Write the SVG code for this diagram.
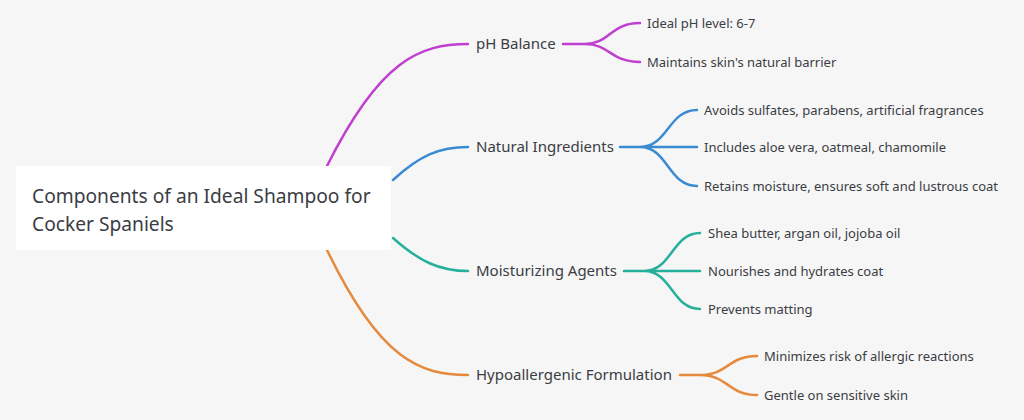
<svg xmlns="http://www.w3.org/2000/svg" width="1024" height="420" viewBox="0 0 1024 420">
<style>
.b{fill:none;stroke-width:2.5;stroke-linecap:round}
.t{font-family:"Noto Sans",sans-serif;font-size:15px;fill:#3a3d44}
.c{font-family:"Noto Sans",sans-serif;font-size:13px;fill:#3a3d44}
.r{font-family:"Noto Sans",sans-serif;font-size:19.2px;fill:#3a3d44}
</style>
<rect width="1024" height="420" fill="#f6f6f6"/>
<g id="connectors">
<path class="b" stroke="#c03fd0" d="M327,166 C380,60 420,44 468,44 M563,44 H585 C610,44 610,23 640,23 M585,44 C610,44 610,62 640,62"/>
<path class="b" stroke="#3a8bd2" d="M393,180 C420,155 440,147 468,147 M620,147 H640 C668,147 668,110 697,110 M640,147 C668,147 668,186 697,186 M640,147 H697"/>
<path class="b" stroke="#26b09b" d="M393,238 C420,262 440,271 468,271 M624,271 H644 C672,271 672,233 700,233 M644,271 C672,271 672,309 700,309 M644,271 H700"/>
<path class="b" stroke="#e58a3d" d="M327,250 C380,360 420,375 468,375 M680,375 H700 C728,375 728,356 757,356 M700,375 C728,375 728,395 757,395"/>
</g>
<g id="root"><rect x="16" y="166" width="375" height="84" fill="#fff"/>
<text class="r" x="32" y="203">Components of an Ideal Shampoo for</text>
<text class="r" x="32" y="231">Cocker Spaniels</text></g>
<g id="ph"><text class="t" x="476" y="49">pH Balance</text></g>
<g id="ph1"><text class="c" x="647" y="28">Ideal pH level: 6-7</text></g>
<g id="ph2"><text class="c" x="647" y="67">Maintains skin's natural barrier</text></g>
<g id="nat"><text class="t" x="476" y="152">Natural Ingredients</text></g>
<g id="nat1"><text class="c" x="704" y="115">Avoids sulfates, parabens, artificial fragrances</text></g>
<g id="nat2"><text class="c" x="704" y="152">Includes aloe vera, oatmeal, chamomile</text></g>
<g id="nat3"><text class="c" x="704" y="191">Retains moisture, ensures soft and lustrous coat</text></g>
<g id="moi"><text class="t" x="476" y="276">Moisturizing Agents</text></g>
<g id="moi1"><text class="c" x="708" y="238">Shea butter, argan oil, jojoba oil</text></g>
<g id="moi2"><text class="c" x="708" y="276">Nourishes and hydrates coat</text></g>
<g id="moi3"><text class="c" x="708" y="314">Prevents matting</text></g>
<g id="hyp"><text class="t" x="476" y="380">Hypoallergenic Formulation</text></g>
<g id="hyp1"><text class="c" x="764" y="361">Minimizes risk of allergic reactions</text></g>
<g id="hyp2"><text class="c" x="764" y="400">Gentle on sensitive skin</text></g>
</svg>
